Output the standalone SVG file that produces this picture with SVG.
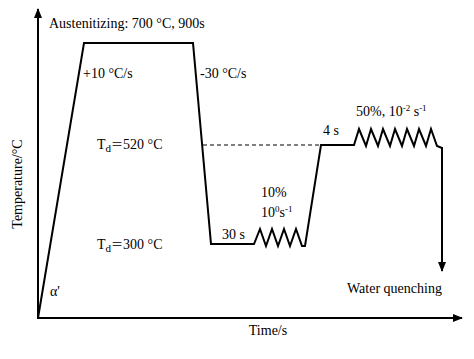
<svg xmlns="http://www.w3.org/2000/svg" width="474" height="359" viewBox="0 0 474 359">
<style>
.t{font-family:'Liberation Serif','DejaVu Serif',serif;font-size:14px;fill:#000}
.ln{fill:none;stroke:#000;stroke-width:2;stroke-linejoin:miter}
.ax{fill:none;stroke:#000;stroke-width:2}
.sup{font-size:9px}
.sub{font-size:11px}
.eq{font-family:'Noto Sans CJK SC',sans-serif;font-size:12px}
</style>
<defs>
<marker id="ah" markerWidth="10" markerHeight="10" refX="9" refY="5" orient="auto" markerUnits="userSpaceOnUse">
<path d="M0,1 L10,5 L0,9 Z" fill="#000"/>
</marker>
</defs>
<rect width="474" height="359" fill="#fff"/>
<g id="axes">
<line class="ax" x1="38" y1="319" x2="38" y2="9" marker-end="url(#ah)"/>
<line class="ax" x1="38" y1="318" x2="462" y2="318" marker-end="url(#ah)"/>
</g>
<g id="connectors">
<path class="ln" d="M38,318 L84,43 L193,43 L211,244 L254,244 L260,229 L266,246 L272,229 L278,246 L284,229 L290,246 L296,229 L302,246 L305,246 L321,145 L354,145 L359,129 L366,146 L371,129 L378,146 L383,129 L390,146 L395,129 L402,146 L407,129 L414,146 L419,129 L426,146 L431,129 L437,146 L442,148"/>
<line class="ax" x1="442" y1="147" x2="442" y2="271" marker-end="url(#ah)"/>
<line x1="203" y1="145" x2="321" y2="145" stroke="#000" stroke-width="1" stroke-dasharray="4,3"/>
</g>
<g id="labels" class="t" font-family="'Liberation Serif', 'DejaVu Serif', serif" font-size="14">
<text x="49" y="28">Austenitizing: 700 °C, 900s</text>
<text x="83" y="78">+10 °C/s</text>
<text x="200" y="78">-30 °C/s</text>
<text x="97" y="149">T<tspan class="sub" dy="3">d</tspan><tspan class="eq" dy="-3">＝</tspan><tspan>520 °C</tspan></text>
<text x="97" y="249">T<tspan class="sub" dy="3">d</tspan><tspan class="eq" dy="-3">＝</tspan><tspan>300 °C</tspan></text>
<text x="222" y="239">30 s</text>
<text x="261" y="197">10%</text>
<text x="261" y="217">10<tspan class="sup" dy="-5">0</tspan><tspan dy="5">s</tspan><tspan class="sup" dy="-5">-1</tspan></text>
<text x="323" y="135">4 s</text>
<text x="356" y="116">50%, 10<tspan class="sup" dy="-5">-2</tspan><tspan dy="5"> s</tspan><tspan class="sup" dy="-5">-1</tspan></text>
<text x="347" y="293">Water quenching</text>
<text x="50" y="296">α'</text>
<text x="268" y="335" text-anchor="middle">Time/s</text>
<text x="22" y="184" text-anchor="middle" transform="rotate(-90 22 184)">Temperature/°C</text>
</g>
</svg>
